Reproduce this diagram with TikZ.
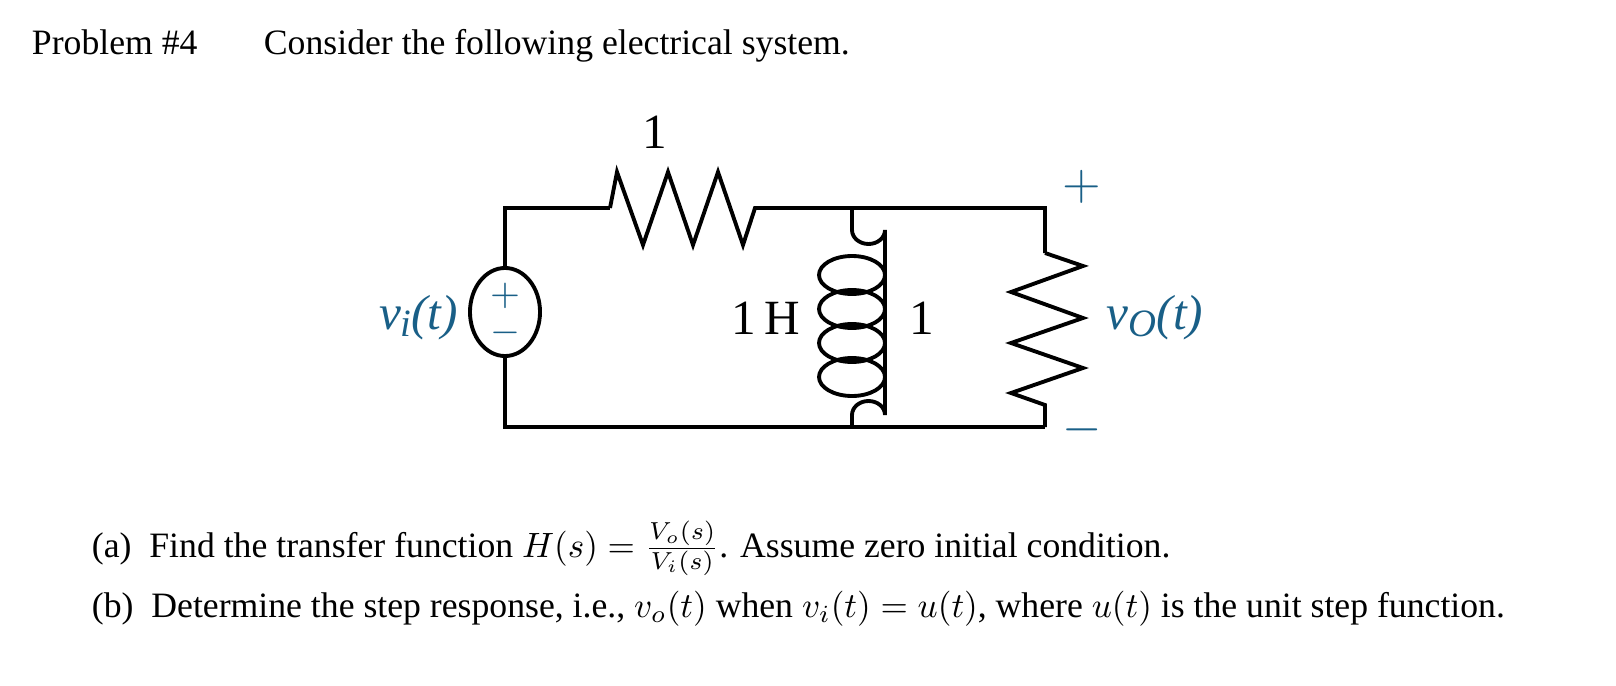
\documentclass[tikz,border=0pt]{standalone}
\usepackage{fontspec}
\setmainfont{Liberation Serif}
\usetikzlibrary{shapes.geometric}
\definecolor{cblue}{RGB}{25,95,135}
\begin{document}
\begin{tikzpicture}[x=0.01cm,y=-0.01cm,line width=1.1pt,
  wire/.style={line width=1.1pt,line join=miter},
  txt/.style={inner sep=0,font=\fontsize{10.15}{11}\selectfont},
  lab/.style={inner sep=0,font=\fontsize{14}{16}\selectfont},
  blab/.style={inner sep=0,text=cblue,font=\fontsize{14}{16}\selectfont\itshape}]
\useasboundingbox (0,0) rectangle (1616,685);
% coordinates
\coordinate (tl) at (505,208);
\coordinate (bl) at (505,427);
\coordinate (r1a) at (610,208);
\coordinate (r1b) at (762,208);
\coordinate (j) at (852,208);
\coordinate (jb) at (852,427);
\coordinate (tr) at (1045,208);
\coordinate (br) at (1045,427);
% source
\node[ellipse,draw,line width=1.1pt,inner sep=0,
  minimum width=0.7cm,minimum height=0.88cm] (src) at (505,312) {};
\node[text=cblue,inner sep=0,font=\fontsize{11}{11}\selectfont] (pl) at (505,296) {$+$};
\node[text=cblue,inner sep=0,font=\fontsize{11}{11}\selectfont] (mi) at (505,333) {$-$};
\draw[wire] (src.north) -- (tl) -- (r1a);
\draw[wire] (src.south) -- (bl) -- (br);
% top resistor
\draw[wire] (r1a) -- (617,172) -- (643,245) -- (668,172) -- (693,245) -- (718,172) -- (743,245) -- (755,208) -- (r1b) -- (tr) -- (1045,253);
% right resistor
\draw[wire] (1045,253) -- (1083,266) -- (1011,292) -- (1083,318) -- (1011,343) -- (1083,368) -- (1011,393) -- (1045,405) -- (br);
% inductor
\draw[wire] (j) -- (852,230) arc[start angle=180,end angle=0,x radius=16.5,y radius=14] -- (885,415) arc[start angle=0,end angle=-180,x radius=16.5,y radius=14] -- (jb);
\foreach \c in {275,309,343,377}{
  \draw[line width=1.1pt] (852,\c) ellipse[x radius=33,y radius=19];}
% labels
\node[lab] (l1) at (655,132) {1};
\node[lab] (lH) at (766,318) {1\,H};
\node[lab] (l2) at (922,318) {1};
\node[text=cblue,inner sep=0,font=\fontsize{14}{14}\selectfont] (vp) at (1082,187) {$+$};
\node[text=cblue,inner sep=0,font=\fontsize{14}{14}\selectfont] (vm) at (1082,430) {$-$};
\node[blab,anchor=west] (vo) at (1105,318) {v\raisebox{-0.3ex}{\fontsize{11}{11}\selectfont O}(t)};
\node[blab,anchor=east] (vi) at (460,318) {v\raisebox{-0.3ex}{\fontsize{11}{11}\selectfont i}(t)};
% text
\node[txt,anchor=base west] (p) at (30,55) {Problem \#4};
\node[txt,anchor=base west] (c) at (262,55) {Consider the following electrical system.};
\node[txt,anchor=base west] (qa) at (90,557) {(a)\ \ Find the transfer function $H(s)=\frac{V_o(s)}{V_i(s)}$. Assume zero initial condition.};
\node[txt,anchor=base west] (qb) at (90,617) {(b)\ \ Determine the step response, i.e., $v_o(t)$ when $v_i(t)=u(t)$, where $u(t)$ is the unit step function.};
\end{tikzpicture}
\end{document}
